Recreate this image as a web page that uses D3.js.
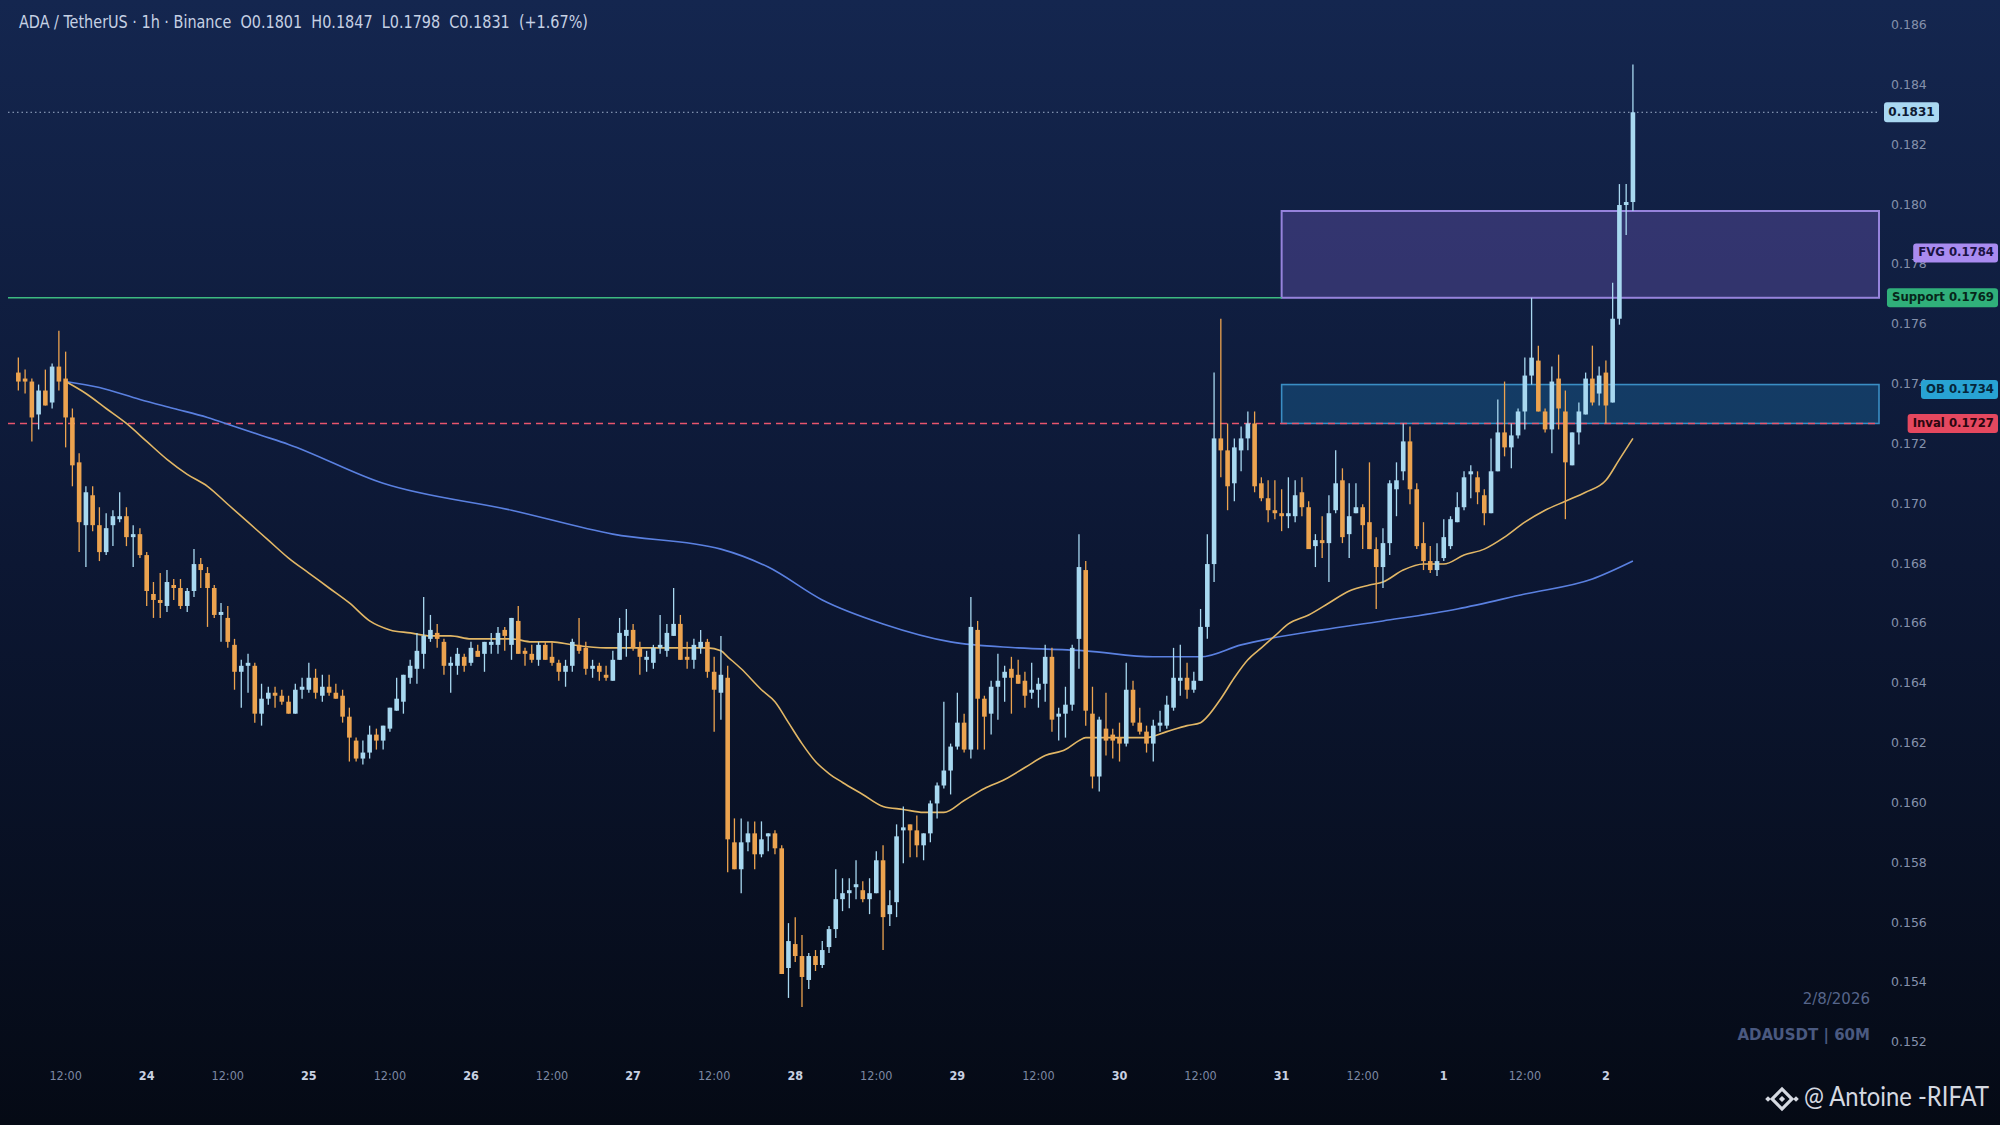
<!DOCTYPE html>
<html>
<head>
<meta charset="utf-8">
<script src="https://cdn.jsdelivr.net/npm/d3@7"></script>
<style>
html, body { margin: 0; padding: 0; background: #050a15; }
svg { display: block; }
</style>
</head>
<body>
<svg id="chart" width="2000" height="1125"></svg>
<script>
// hourly ADA/USDT candles, first one at Jan 23 05:00, [open, high, low, close]
const firstCandle = new Date(2026, 0, 23, 5);
const ohlc = [
  [0.1744,0.1749,0.1738,0.1741],[0.1742,0.1745,0.1737,0.1741],[0.1741,0.1742,0.1721,0.1729],[0.1730,0.1740,0.1725,0.1738],
  [0.1738,0.1745,0.1733,0.1733],[0.1734,0.1747,0.1732,0.1746],[0.1746,0.1758,0.1738,0.1741],[0.1742,0.1751,0.1719,0.1729],
  [0.1729,0.1732,0.1706,0.1713],[0.1714,0.1717,0.1684,0.1694],[0.1693,0.1706,0.1679,0.1704],[0.1703,0.1706,0.1691,0.1693],
  [0.1693,0.1699,0.1681,0.1684],[0.1684,0.1697,0.1683,0.1692],[0.1693,0.1698,0.1686,0.1696],[0.1695,0.1704,0.1694,0.1696],
  [0.1696,0.1699,0.1686,0.1689],[0.1689,0.1693,0.1679,0.1690],[0.1690,0.1692,0.1682,0.1683],[0.1683,0.1684,0.1666,0.1671],
  [0.1670,0.1674,0.1662,0.1668],[0.1668,0.1677,0.1662,0.1667],[0.1666,0.1678,0.1664,0.1674],[0.1673,0.1675,0.1668,0.1672],
  [0.1672,0.1675,0.1665,0.1666],[0.1666,0.1672,0.1664,0.1671],[0.1671,0.1685,0.1669,0.1680],[0.1680,0.1682,0.1672,0.1678],
  [0.1677,0.1679,0.1659,0.1672],[0.1672,0.1673,0.1662,0.1663],[0.1663,0.1667,0.1654,0.1664],[0.1662,0.1666,0.1652,0.1654],
  [0.1653,0.1655,0.1638,0.1644],[0.1644,0.1648,0.1632,0.1646],[0.1646,0.1650,0.1637,0.1647],[0.1646,0.1647,0.1627,0.1630],
  [0.1630,0.1640,0.1626,0.1635],[0.1635,0.1639,0.1633,0.1637],[0.1637,0.1639,0.1632,0.1636],[0.1636,0.1638,0.1633,0.1634],
  [0.1634,0.1636,0.1630,0.1630],[0.1630,0.1640,0.1630,0.1638],[0.1638,0.1642,0.1635,0.1639],[0.1638,0.1647,0.1637,0.1642],
  [0.1642,0.1645,0.1635,0.1637],[0.1636,0.1643,0.1634,0.1639],[0.1639,0.1643,0.1636,0.1637],[0.1637,0.1640,0.1635,0.1635],
  [0.1636,0.1638,0.1627,0.1629],[0.1629,0.1632,0.1614,0.1622],[0.1621,0.1622,0.1614,0.1615],[0.1615,0.1621,0.1613,0.1617],
  [0.1617,0.1626,0.1615,0.1623],[0.1623,0.1625,0.1618,0.1621],[0.1621,0.1626,0.1618,0.1626],[0.1625,0.1632,0.1624,0.1632],
  [0.1631,0.1642,0.1631,0.1635],[0.1634,0.1643,0.1630,0.1643],[0.1642,0.1648,0.1640,0.1646],[0.1645,0.1657,0.1640,0.1651],
  [0.1650,0.1669,0.1645,0.1656],[0.1655,0.1663,0.1654,0.1658],[0.1657,0.1660,0.1652,0.1655],[0.1654,0.1655,0.1643,0.1646],
  [0.1646,0.1649,0.1637,0.1647],[0.1646,0.1652,0.1643,0.1650],[0.1649,0.1650,0.1644,0.1646],[0.1647,0.1654,0.1646,0.1652],
  [0.1651,0.1653,0.1649,0.1649],[0.1650,0.1654,0.1644,0.1654],[0.1653,0.1657,0.1650,0.1654],[0.1653,0.1659,0.1650,0.1657],
  [0.1658,0.1659,0.1651,0.1656],[0.1653,0.1662,0.1648,0.1662],[0.1661,0.1666,0.1650,0.1650],[0.1651,0.1652,0.1646,0.1650],
  [0.1650,0.1653,0.1647,0.1648],[0.1648,0.1654,0.1646,0.1653],[0.1653,0.1654,0.1648,0.1648],[0.1649,0.1654,0.1646,0.1647],
  [0.1647,0.1648,0.1641,0.1644],[0.1644,0.1648,0.1639,0.1646],[0.1646,0.1655,0.1644,0.1654],[0.1653,0.1662,0.1650,0.1651],
  [0.1652,0.1654,0.1643,0.1645],[0.1645,0.1648,0.1642,0.1646],[0.1646,0.1647,0.1641,0.1644],[0.1643,0.1646,0.1641,0.1642],
  [0.1641,0.1651,0.1641,0.1648],[0.1648,0.1662,0.1648,0.1657],[0.1656,0.1665,0.1649,0.1658],[0.1658,0.1660,0.1651,0.1652],
  [0.1652,0.1654,0.1643,0.1649],[0.1648,0.1651,0.1644,0.1649],[0.1647,0.1653,0.1645,0.1652],[0.1652,0.1663,0.1650,0.1653],
  [0.1651,0.1660,0.1649,0.1657],[0.1656,0.1672,0.1656,0.1660],[0.1660,0.1663,0.1648,0.1648],[0.1649,0.1654,0.1645,0.1648],
  [0.1648,0.1655,0.1645,0.1653],[0.1652,0.1658,0.1650,0.1654],[0.1654,0.1655,0.1642,0.1644],[0.1644,0.1649,0.1624,0.1638],
  [0.1637,0.1656,0.1628,0.1643],[0.1642,0.1646,0.1577,0.1588],[0.1587,0.1595,0.1578,0.1578],[0.1578,0.1595,0.1570,0.1587],
  [0.1587,0.1594,0.1584,0.1590],[0.1590,0.1594,0.1578,0.1583],[0.1583,0.1594,0.1582,0.1588],[0.1589,0.1590,0.1584,0.1590],
  [0.1590,0.1591,0.1583,0.1585],[0.1585,0.1586,0.1543,0.1543],[0.1545,0.1560,0.1535,0.1554],[0.1553,0.1562,0.1547,0.1549],
  [0.1549,0.1556,0.1532,0.1542],[0.1541,0.1550,0.1538,0.1549],[0.1549,0.1551,0.1544,0.1546],[0.1546,0.1554,0.1545,0.1551],
  [0.1552,0.1559,0.1550,0.1558],[0.1558,0.1578,0.1555,0.1568],[0.1568,0.1575,0.1564,0.1570],[0.1570,0.1575,0.1565,0.1571],
  [0.1572,0.1581,0.1568,0.1573],[0.1571,0.1574,0.1567,0.1568],[0.1568,0.1575,0.1563,0.1570],[0.1570,0.1584,0.1570,0.1581],
  [0.1581,0.1586,0.1551,0.1562],[0.1563,0.1571,0.1559,0.1566],[0.1567,0.1593,0.1562,0.1589],[0.1591,0.1599,0.1580,0.1592],
  [0.1593,0.1593,0.1582,0.1591],[0.1591,0.1596,0.1582,0.1586],[0.1586,0.1590,0.1581,0.1590],[0.1590,0.1601,0.1587,0.1600],
  [0.1600,0.1607,0.1595,0.1606],[0.1606,0.1634,0.1605,0.1611],[0.1611,0.1620,0.1603,0.1619],[0.1619,0.1637,0.1618,0.1627],
  [0.1627,0.1630,0.1617,0.1618],[0.1618,0.1669,0.1615,0.1659],[0.1658,0.1661,0.1618,0.1635],[0.1635,0.1636,0.1618,0.1629],
  [0.1630,0.1641,0.1623,0.1639],[0.1639,0.1650,0.1628,0.1641],[0.1642,0.1646,0.1634,0.1644],[0.1645,0.1649,0.1630,0.1642],
  [0.1643,0.1648,0.1640,0.1640],[0.1641,0.1644,0.1632,0.1636],[0.1637,0.1647,0.1635,0.1638],[0.1638,0.1642,0.1632,0.1640],
  [0.1640,0.1653,0.1634,0.1649],[0.1649,0.1652,0.1624,0.1628],[0.1629,0.1632,0.1621,0.1630],[0.1630,0.1639,0.1622,0.1633],
  [0.1633,0.1653,0.1631,0.1652],[0.1655,0.1690,0.1645,0.1679],[0.1678,0.1681,0.1626,0.1631],[0.1630,0.1639,0.1605,0.1609],
  [0.1609,0.1629,0.1604,0.1628],[0.1625,0.1637,0.1616,0.1621],[0.1623,0.1625,0.1615,0.1621],[0.1622,0.1627,0.1614,0.1620],
  [0.1620,0.1647,0.1619,0.1638],[0.1638,0.1641,0.1626,0.1627],[0.1627,0.1632,0.1623,0.1624],[0.1624,0.1626,0.1617,0.1620],
  [0.1620,0.1628,0.1614,0.1626],[0.1626,0.1631,0.1624,0.1627],[0.1626,0.1636,0.1625,0.1633],[0.1632,0.1652,0.1631,0.1642],
  [0.1641,0.1653,0.1636,0.1642],[0.1642,0.1647,0.1635,0.1638],[0.1638,0.1644,0.1637,0.1641],[0.1641,0.1665,0.1641,0.1659],
  [0.1659,0.1690,0.1655,0.1680],[0.1680,0.1744,0.1674,0.1722],[0.1722,0.1762,0.1709,0.1718],[0.1718,0.1727,0.1698,0.1706],
  [0.1707,0.1722,0.1701,0.1719],[0.1718,0.1726,0.1711,0.1722],[0.1722,0.1731,0.1718,0.1727],[0.1727,0.1731,0.1704,0.1706],
  [0.1707,0.1709,0.1701,0.1702],[0.1702,0.1708,0.1694,0.1698],[0.1698,0.1708,0.1695,0.1697],[0.1697,0.1705,0.1691,0.1696],
  [0.1696,0.1709,0.1692,0.1697],[0.1696,0.1708,0.1694,0.1703],[0.1704,0.1709,0.1696,0.1699],[0.1699,0.1701,0.1685,0.1685],
  [0.1686,0.1690,0.1679,0.1688],[0.1688,0.1696,0.1682,0.1687],[0.1687,0.1703,0.1674,0.1697],[0.1698,0.1718,0.1697,0.1707],
  [0.1708,0.1712,0.1687,0.1689],[0.1690,0.1707,0.1682,0.1696],[0.1697,0.1707,0.1697,0.1699],[0.1699,0.1700,0.1685,0.1693],
  [0.1694,0.1714,0.1685,0.1685],[0.1685,0.1689,0.1665,0.1679],[0.1679,0.1692,0.1672,0.1687],[0.1687,0.1708,0.1683,0.1707],
  [0.1705,0.1714,0.1696,0.1708],[0.1711,0.1727,0.1708,0.1721],[0.1721,0.1726,0.1700,0.1705],[0.1705,0.1707,0.1685,0.1686],
  [0.1687,0.1694,0.1678,0.1681],[0.1681,0.1686,0.1677,0.1678],[0.1678,0.1687,0.1676,0.1681],[0.1682,0.1695,0.1681,0.1689],
  [0.1686,0.1696,0.1685,0.1695],[0.1694,0.1704,0.1694,0.1699],[0.1699,0.1711,0.1698,0.1709],[0.1710,0.1713,0.1702,0.1711],
  [0.1709,0.1711,0.1700,0.1704],[0.1703,0.1705,0.1693,0.1697],[0.1697,0.1722,0.1697,0.1711],[0.1711,0.1735,0.1711,0.1724],
  [0.1724,0.1741,0.1716,0.1719],[0.1719,0.1727,0.1712,0.1723],[0.1723,0.1732,0.1722,0.1731],[0.1731,0.1749,0.1725,0.1743],
  [0.1743,0.1769,0.1740,0.1749],[0.1748,0.1753,0.1731,0.1731],[0.1731,0.1732,0.1724,0.1725],[0.1725,0.1746,0.1717,0.1741],
  [0.1742,0.1750,0.1725,0.1732],[0.1731,0.1738,0.1695,0.1714],[0.1713,0.1724,0.1713,0.1724],[0.1724,0.1734,0.1720,0.1731],
  [0.1730,0.1744,0.1730,0.1742],[0.1742,0.1753,0.1733,0.1734],[0.1737,0.1746,0.1733,0.1743],[0.1744,0.1748,0.1727,0.1733],
  [0.1734,0.1774,0.1734,0.1762],[0.1762,0.1807,0.1760,0.1800],[0.1800,0.1807,0.1790,0.1801],[0.1801,0.1847,0.1798,0.1831]
];

// moving averages, [candle index, value]
const fastMA = [
  [7,0.1741],[10,0.1737],[13,0.1732],[16,0.1727],[19,0.1721],[22,0.1715],[25,0.1710],[28,0.1706],[31,0.1700],
  [34,0.1694],[37,0.1688],[40,0.1682],[43,0.1677],[46,0.1672],[49,0.1667],[52,0.1661],[55,0.1658],[58,0.1657],
  [61,0.1656],[64,0.1656],[67,0.1655],[70,0.1655],[73,0.1655],[76,0.1654],[79,0.1654],[82,0.1653],[87,0.1652],
  [93,0.1652],[99,0.1652],[102,0.1652],[104,0.1651],[105,0.1649],[107,0.1645],[110,0.1638],[112,0.1634],[114,0.1627],
  [116,0.1620],[118,0.1614],[120,0.1610],[122,0.1607],[125,0.1603],[128,0.1599],[131,0.1598],[134,0.1597],[137,0.1597],
  [140,0.1601],[143,0.1605],[146,0.1608],[149,0.1612],[152,0.1616],[155,0.1618],[157,0.1621],[158,0.1622],[164,0.1622],
  [167,0.1622],[170,0.1624],[173,0.1626],[175,0.1627],[176,0.1629],[178,0.1635],[180,0.1642],[182,0.1648],[184,0.1652],
  [186,0.1656],[188,0.1660],[191,0.1663],[194,0.1667],[197,0.1671],[200,0.1673],[202,0.1674],[205,0.1678],[208,0.1680],
  [211,0.1680],[214,0.1683],[217,0.1685],[220,0.1689],[223,0.1694],[226,0.1698],[229,0.1701],[232,0.1704],[235,0.1708],
  [237,0.1715],[239,0.1722]
];
const slowMA = [
  [7,0.1741],[12,0.1739],[18,0.1735],[23,0.1732],[28,0.1729],[32,0.1726],[36,0.1723],[40,0.1720],[54,0.1707],
  [73,0.1698],[88,0.1690],[104,0.1685],[111,0.1679],[119,0.1668],[128,0.1660],[138,0.1654],[148,0.1652],[158,0.1651],
  [168,0.1649],[175,0.1649],[181,0.1653],[185,0.1655],[193,0.1658],[202,0.1661],[213,0.1665],[223,0.1670],[233,0.1675],
  [239,0.1681]
];

// levels and zones
const lastPrice = 0.1831;
const supportLevel = 0.1769;
const invalLevel = 0.1727;
const fvgZone = [0.1769, 0.1798];
const obZone = [0.1727, 0.1740];
const zoneStart = new Date(2026, 0, 31, 0);
const levelNames = ['FVG', 'Support', 'OB', 'Inval'];
const levelValues = [0.1784, 0.1769, 0.1734, 0.1727];

// axes
const yTicks = [0.152,0.154,0.156,0.158,0.160,0.162,0.164,0.166,0.168,0.170,0.172,0.174,0.176,0.178,0.180,0.182,0.184,0.186];
const xTickTimes = ['2026-01-23T12:00','2026-01-24T00:00','2026-01-24T12:00','2026-01-25T00:00','2026-01-25T12:00',
  '2026-01-26T00:00','2026-01-26T12:00','2026-01-27T00:00','2026-01-27T12:00','2026-01-28T00:00','2026-01-28T12:00',
  '2026-01-29T00:00','2026-01-29T12:00','2026-01-30T00:00','2026-01-30T12:00','2026-01-31T00:00','2026-01-31T12:00',
  '2026-02-01T00:00','2026-02-01T12:00','2026-02-02T00:00'];
const xTickLabels = ['12:00','24','12:00','25','12:00','26','12:00','27','12:00','28','12:00','29','12:00','30','12:00','31','12:00','1','12:00','2'];

const headerText = 'ADA / TetherUS \u00b7 1h \u00b7 Binance  O0.1801  H0.1847  L0.1798  C0.1831  (+1.67%)';

const W = 2000, H = 1125;
const plotLeft = 8, plotRight = 1879;
const svg = d3.select('#chart');

const x = d3.scaleTime()
  .domain([new Date(2026, 0, 24, 0), new Date(2026, 1, 2, 0)])
  .range([146.7, 1605.9]);
const y = d3.scaleLinear().domain([0.152, 0.186]).range([1042.8, 25.5]);
const tOf = i => d3.timeHour.offset(firstCandle, i);

// background
const defs = svg.append('defs');
const grad = defs.append('linearGradient').attr('id', 'bg').attr('x1', 0).attr('y1', 0).attr('x2', 0).attr('y2', 1);
grad.append('stop').attr('offset', '0%').attr('stop-color', '#14264f');
grad.append('stop').attr('offset', '50%').attr('stop-color', '#0c1733');
grad.append('stop').attr('offset', '100%').attr('stop-color', '#050a15');
svg.append('rect').attr('width', W).attr('height', H).attr('fill', 'url(#bg)');

// y tick labels
svg.append('g').selectAll('text').data(yTicks).enter().append('text')
  .attr('x', 1891).attr('y', d => y(d))
  .attr('dominant-baseline', 'middle')
  .style('font-family', 'DejaVu Sans').style('font-size', '12.5px')
  .style('fill', '#8591ab')
  .text(d => d.toFixed(3));

// x tick labels
svg.append('g').selectAll('text').data(xTickTimes).enter().append('text')
  .attr('x', d => x(new Date(d)))
  .attr('y', 1076)
  .attr('text-anchor', 'middle').attr('dominant-baseline', 'middle')
  .style('font-family', '"DejaVu Sans Condensed", "DejaVu Sans"').style('font-stretch', 'condensed')
  .style('font-size', '12.5px')
  .style('font-weight', (d, i) => xTickLabels[i] === '12:00' ? 'normal' : 'bold')
  .style('fill', (d, i) => xTickLabels[i] === '12:00' ? '#7c88a3' : '#c9d1e2')
  .text((d, i) => xTickLabels[i]);

// zones
const zoneX = x(zoneStart);
svg.append('rect')
  .attr('x', zoneX).attr('y', y(fvgZone[1]))
  .attr('width', plotRight - zoneX).attr('height', y(fvgZone[0]) - y(fvgZone[1]))
  .attr('fill', 'rgba(122,98,200,0.33)')
  .attr('stroke', '#9683dc').attr('stroke-width', 2);
svg.append('rect')
  .attr('x', zoneX).attr('y', y(obZone[1]))
  .attr('width', plotRight - zoneX).attr('height', y(obZone[0]) - y(obZone[1]))
  .attr('fill', 'rgba(30,123,184,0.33)')
  .attr('stroke', '#3a8ec4').attr('stroke-width', 1.6);

// support / invalidation / last price lines
svg.append('line')
  .attr('x1', plotLeft).attr('x2', zoneX)
  .attr('y1', y(supportLevel)).attr('y2', y(supportLevel))
  .style('stroke', '#3dbb80').style('stroke-width', 1.6);
svg.append('line')
  .attr('x1', plotLeft).attr('x2', plotRight)
  .attr('y1', y(invalLevel)).attr('y2', y(invalLevel))
  .style('stroke', '#e8556d').style('stroke-width', 1.6).style('stroke-dasharray', '7,5');
svg.append('line')
  .attr('x1', plotLeft).attr('x2', plotRight)
  .attr('y1', y(lastPrice)).attr('y2', y(lastPrice))
  .style('stroke', '#9fb0cc').style('stroke-width', 1).style('stroke-dasharray', '1.5,3');

// moving averages
const maLine = d3.line()
  .x(d => x(tOf(d[0])))
  .y(d => y(d[1]))
  .curve(d3.curveMonotoneX);
svg.append('path').datum(slowMA).attr('d', maLine)
  .attr('fill', 'none').style('stroke', '#5a80e0').style('stroke-width', 1.6);
svg.append('path').datum(fastMA).attr('d', maLine)
  .attr('fill', 'none').style('stroke', '#e2b766').style('stroke-width', 1.6);

// candles
const up = '#a8d8f0', down = '#eca34f';
const candles = svg.append('g').selectAll('g').data(ohlc).enter().append('g');
candles.append('line')
  .attr('x1', (d, i) => x(tOf(i))).attr('x2', (d, i) => x(tOf(i)))
  .attr('y1', d => y(d[1])).attr('y2', d => y(d[2]))
  .style('stroke', d => d[3] >= d[0] ? up : down).style('stroke-width', 1.3);
candles.append('rect')
  .attr('x', (d, i) => x(tOf(i)) - 2.3).attr('width', 4.6)
  .attr('y', d => y(Math.max(d[0], d[3])))
  .attr('height', d => Math.max(1.2, Math.abs(y(d[0]) - y(d[3]))))
  .attr('fill', d => d[3] >= d[0] ? up : down);

// header
svg.append('text')
  .attr('x', 19).attr('y', 23).attr('dominant-baseline', 'middle')
  .attr('textLength', 569).attr('lengthAdjust', 'spacingAndGlyphs')
  .style('font-family', '"DejaVu Sans Condensed", "DejaVu Sans"').style('font-stretch', 'condensed')
  .style('font-size', '17px').style('fill', '#c6d1e4')
  .style('white-space', 'pre')
  .text(headerText);

// last price tag
const tag = svg.append('g');
tag.append('text')
  .attr('x', 1911.5).attr('y', y(lastPrice)).attr('text-anchor', 'middle').attr('dominant-baseline', 'middle')
  .style('font-family', 'DejaVu Sans').style('font-weight', 'bold').style('font-size', '12px')
  .style('fill', '#0d1a33').text(lastPrice.toFixed(4));
tag.insert('rect', 'text')
  .attr('x', 1884).attr('y', y(lastPrice) - 10).attr('width', 55).attr('height', 20).attr('rx', 3)
  .attr('fill', '#a9d8f2');

// level tags on the right, pushed apart when too close
const tagFill = { FVG: '#a98bf0', Support: '#30b07a', OB: '#28a3d3', Inval: '#e5485f' };
const tagInk = { FVG: '#1b1242', Support: '#07261a', OB: '#06263a', Inval: '#2b0710' };
const tagY = levelValues.map(v => y(v));
for (let i = tagY.length - 2; i >= 0; i--) {
  if (tagY[i] > tagY[i + 1] - 34) tagY[i] = tagY[i + 1] - 34;
}
levelNames.forEach((name, i) => {
  const g = svg.append('g');
  const t = g.append('text')
    .attr('x', 1994).attr('y', tagY[i]).attr('text-anchor', 'end').attr('dominant-baseline', 'middle')
    .style('font-family', 'DejaVu Sans').style('font-weight', 'bold').style('font-size', '11.7px')
    .style('fill', tagInk[name])
    .text(`${name} ${levelValues[i].toFixed(4)}`);
  const w = t.node().getComputedTextLength();
  g.insert('rect', 'text')
    .attr('x', 1994 - w - 5).attr('y', tagY[i] - 9.5).attr('width', w + 9).attr('height', 19).attr('rx', 3)
    .attr('fill', tagFill[name]);
});

// bottom right captions
svg.append('text')
  .attr('x', 1870).attr('y', 999).attr('text-anchor', 'end').attr('dominant-baseline', 'middle')
  .style('font-family', 'DejaVu Sans').style('font-size', '15px').style('fill', '#56658a')
  .text('2/8/2026');
svg.append('text')
  .attr('x', 1870).attr('y', 1035).attr('text-anchor', 'end').attr('dominant-baseline', 'middle')
  .style('font-family', 'DejaVu Sans').style('font-weight', 'bold').style('font-size', '15px').style('fill', '#4a5980')
  .text('ADAUSDT | 60M');

// watermark
const wm = svg.append('g').attr('transform', 'translate(1782,1099)');
wm.append('rect').attr('x', -7).attr('y', -7).attr('width', 14).attr('height', 14)
  .attr('transform', 'rotate(45)').attr('fill', 'none').style('stroke', '#d5d9e1').style('stroke-width', 3.2);
wm.append('rect').attr('x', -2.2).attr('y', -2.2).attr('width', 4.4).attr('height', 4.4)
  .attr('transform', 'rotate(45)').attr('fill', '#d5d9e1');
[-14, 14].forEach(dx => {
  wm.append('rect').attr('x', -2).attr('y', -2).attr('width', 4).attr('height', 4)
    .attr('transform', `translate(${dx},0) rotate(45)`).attr('fill', '#d5d9e1');
});
svg.append('text')
  .attr('x', 1804).attr('y', 1099).attr('dominant-baseline', 'middle')
  .attr('textLength', 185).attr('lengthAdjust', 'spacingAndGlyphs')
  .style('font-family', 'Lato').style('font-size', '26px').style('fill', '#d5d9e1')
  .text('@ Antoine -RIFAT');
</script>
</body>
</html>
